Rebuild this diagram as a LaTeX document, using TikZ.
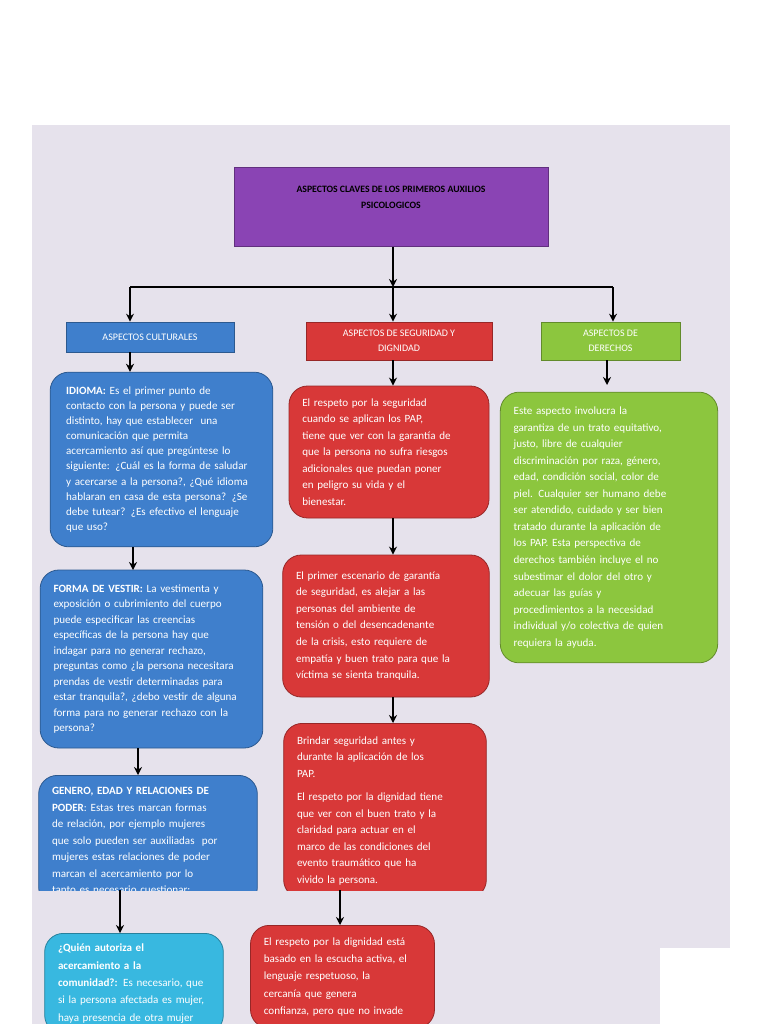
\documentclass[tikz,border=0pt]{standalone}
\usepackage{fontspec}
\setmainfont{Carlito}
\usetikzlibrary{arrows.meta}
\begin{document}
\begin{tikzpicture}[x=0.75pt,y=-0.75pt,
  bx/.style={rounded corners=14pt,draw=#1!70!black,line width=0.6pt,text=white,align=left,font=\fontsize{8.3}{11.6}\selectfont,inner xsep=10pt},
  hd/.style={draw=#1!70!black,line width=0.5pt,text=white,align=center,font=\fontsize{7.5}{11}\selectfont,inner sep=0pt},
  ar/.style={line width=1.4pt,-{Stealth[length=6pt,width=6pt]}},
  ln/.style={line width=1.4pt}]
\definecolor{bg}{HTML}{E6E2EC}
\definecolor{pu}{HTML}{8A44B4}
\definecolor{bl}{HTML}{3F7FCC}
\definecolor{rd}{HTML}{D83838}
\definecolor{gr}{HTML}{8CC63E}
\definecolor{cy}{HTML}{38B8E0}
\useasboundingbox (0,0) rectangle (768,1024);
\fill[white] (0,0) rectangle (768,1024);
\fill[bg] (32,125) rectangle (730,890);
\fill[bg] (32,890) rectangle (660,1024);
\fill[bg] (660,890) rectangle (730,948);
% title
\node[draw=pu!70!black,fill=pu,minimum width=235.5pt,minimum height=59pt,align=center,font=\fontsize{7.3}{12}\selectfont\bfseries,inner sep=0pt] (t) at (391,207) {ASPECTOS CLAVES DE LOS PRIMEROS AUXILIOS\\PSICOLOGICOS\\[2pt]};
\coordinate (tj) at (393,287);
\coordinate (jl) at (130,287);
\coordinate (jr) at (613,287);
\node[hd=bl,fill=bl,minimum width=126pt,minimum height=22.5pt] (hc) at (150,337) {ASPECTOS CULTURALES};
\node[hd=rd,fill=rd,minimum width=139.5pt,minimum height=28.5pt] (hs) at (399,341) {ASPECTOS DE SEGURIDAD Y\\DIGNIDAD};
\node[hd=gr,fill=gr,minimum width=104pt,minimum height=28.5pt] (hr) at (610.5,341) {ASPECTOS DE\\DERECHOS};
\draw[ar] (t.south -| tj) -- (tj);
\draw[ln] (jl) -- (jr);
\draw[ar] (jl) -- (jl |- hc.north);
\draw[ar] (tj) -- (tj |- hs.north);
\draw[ar] (jr) -- (jr |- hr.north);
% blue column
\node[bx=bl,fill=bl,minimum width=167pt,minimum height=131pt,text width=143pt,font=\fontsize{8.3}{11.3}\selectfont] (b1) at (161.5,459.5) {\textbf{IDIOMA:} Es el primer punto de\\contacto con la persona y puede ser\\distinto, hay que establecer\ \ una\\comunicación que permita\\acercamiento así que pregúntese lo\\siguiente: ¿Cuál es la forma de saludar\\y acercarse a la persona?, ¿Qué idioma\\hablaran en casa de esta persona? ¿Se\\debe tutear? ¿Es efectivo el lenguaje\\que uso?};
\node[bx=bl,fill=bl,minimum width=167pt,minimum height=133.5pt,text width=147pt,font=\fontsize{8.3}{11.6}\selectfont] (b2) at (151.5,659) {\textbf{FORMA DE VESTIR:} La vestimenta y\\exposición o cubrimiento del cuerpo\\puede especificar las creencias\\específicas de la persona hay que\\indagar para no generar rechazo,\\preguntas como ¿la persona necesitara\\prendas de vestir determinadas para\\estar tranquila?, ¿debo vestir de alguna\\forma para no generar rechazo con la\\persona?};
\begin{scope}
\clip (0,0) rectangle (768,890);
\node[bx=bl,fill=bl,anchor=north,minimum width=162pt,text width=144pt,inner ysep=9pt,font=\fontsize{8.3}{12.4}\selectfont] (b3) at (148,775) {\textbf{GENERO, EDAD Y RELACIONES DE}\\\textbf{PODER}: Estas tres marcan formas\\de relación, por ejemplo mujeres\\que solo pueden ser auxiliadas\ \ por\\mujeres estas relaciones de poder\\marcan el acercamiento por lo\\tanto es necesario cuestionar:};
\node[bx=rd,fill=rd,anchor=north,minimum width=148.5pt,text width=132pt,inner ysep=10pt,font=\fontsize{8.3}{12.4}\selectfont] (r3) at (385,723) {Brindar seguridad antes y\\durante la aplicación de los\\PAP.\\[5pt]El respeto por la dignidad tiene\\que ver con el buen trato y la\\claridad para actuar en el\\marco de las condiciones del\\evento traumático que ha\\vivido la persona.\\[6pt]};
\end{scope}
\draw[ar] (hc.south -| jl) -- (jl |- b1.north);
\draw[ar] (b1.south -| 133,0) -- (133,570);
\draw[ar] (b2.south -| 138,0) -- (138,775);
% red column
\node[bx=rd,fill=rd,minimum width=145.5pt,minimum height=99pt,text width=130pt,font=\fontsize{8.3}{12.4}\selectfont] (r1) at (389,452) {El respeto por la seguridad\\cuando se aplican los PAP,\\tiene que ver con la garantía de\\que la persona no sufra riesgos\\adicionales que puedan poner\\en peligro su vida y el\\bienestar.};
\node[bx=rd,fill=rd,minimum width=150pt,minimum height=106.5pt,text width=135pt,font=\fontsize{8.3}{12.4}\selectfont] (r2) at (386,626) {El primer escenario de garantía\\de seguridad, es alejar a las\\personas del ambiente de\\tensión o del desencadenante\\de la crisis, esto requiere de\\empatía y buen trato para que la\\víctima se sienta tranquila.};
\draw[ar] (hs.south -| tj) -- (tj |- r1.north);
\draw[ar] (r1.south -| tj) -- (tj |- r2.north);
\draw[ar] (r2.south -| tj) -- (tj |- r3.north);
% green
\node[bx=gr,fill=gr,minimum width=159pt,minimum height=203pt,text width=143pt,font=\fontsize{8.3}{12.4}\selectfont] (g1) at (609,527.5) {Este aspecto involucra la\\garantiza de un trato equitativo,\\justo, libre de cualquier\\discriminación por raza, género,\\edad, condición social, color de\\piel. Cualquier ser humano debe\\ser atendido, cuidado y ser bien\\tratado durante la aplicación de\\los PAP. Esta perspectiva de\\derechos también incluye el no\\subestimar el dolor del otro y\\adecuar las guías y\\procedimientos a la necesidad\\individual y/o colectiva de quien\\requiera la ayuda.};
\draw[ar] (hr.south -| 607,0) -- (607,385);
% bottom section
\coordinate (c0) at (120,890);
\coordinate (d0) at (340,890);
\node[bx=cy,fill=cy,anchor=north,minimum width=129pt,text width=114pt,inner ysep=8pt,font=\fontsize{8.3}{13}\selectfont] (c1) at (134,933) {\textbf{¿Quién autoriza el}\\\textbf{acercamiento a la}\\\textbf{comunidad?:} Es necesario, que\\si la persona afectada es mujer,\\haya presencia de otra mujer\\[12pt]};
\node[bx=rd,fill=rd,anchor=north,minimum width=131pt,text width=118pt,inner ysep=9pt,font=\fontsize{8.3}{13}\selectfont] (d1) at (342.5,925) {El respeto por la dignidad está\\basado en la escucha activa, el\\lenguaje respetuoso, la\\cercanía que genera\\confianza, pero que no invade\\[12pt]};
\draw[ar] (c0) -- (c0 |- c1.north);
\draw[ar] (d0) -- (d0 |- d1.north);
\end{tikzpicture}
\end{document}
